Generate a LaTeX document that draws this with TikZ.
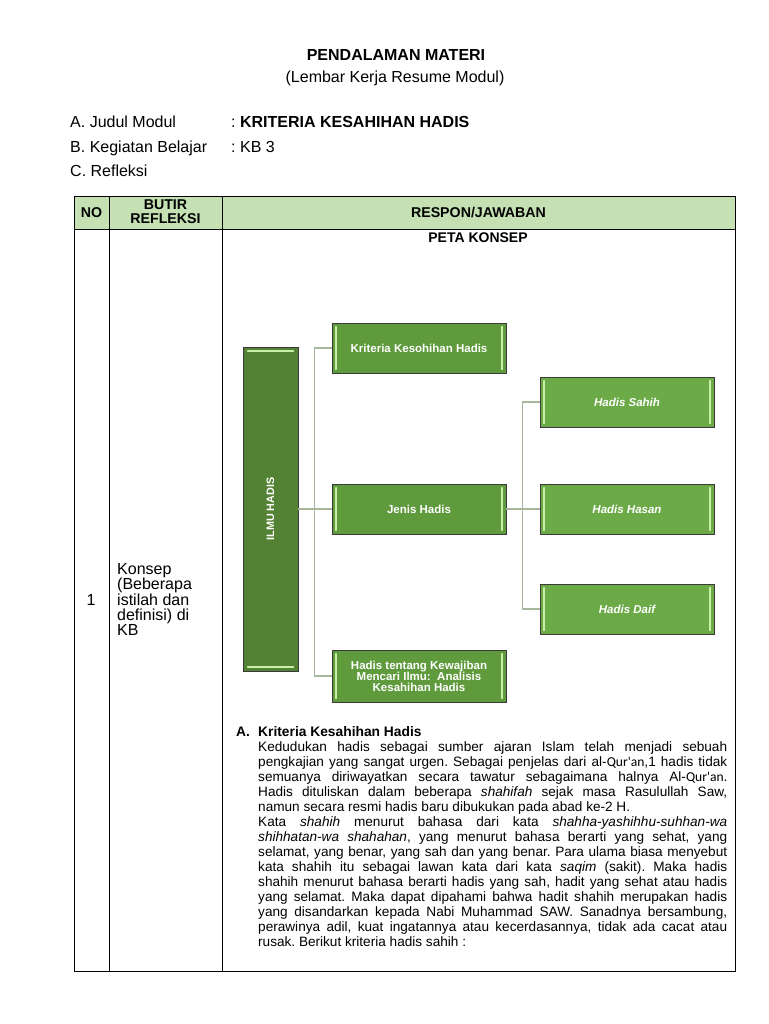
\documentclass[tikz,border=0pt]{standalone}
\usepackage{fontspec}
\setmainfont{Liberation Sans}
\newfontfamily\calib{Carlito}
\usetikzlibrary{shadows}
\definecolor{hdrgreen}{HTML}{C5E0B3}
\definecolor{boxmid}{HTML}{5F9A3C}
\definecolor{boxlight}{HTML}{6CAA48}
\definecolor{boxdark}{HTML}{548235}
\definecolor{bevel}{HTML}{C8F0A8}
\definecolor{conn}{HTML}{A7B79C}
\definecolor{boxedge}{HTML}{3A3A3A}
\newcommand\bevelv[1]{%
  \draw[bevelline] ([xshift=4.5pt,yshift=-4pt]#1.north west) -- ([xshift=4.5pt,yshift=4pt]#1.south west);
  \draw[bevelline] ([xshift=-4.5pt,yshift=-4pt]#1.north east) -- ([xshift=-4.5pt,yshift=4pt]#1.south east);}
\newcommand\jl[1]{\makebox[469pt][s]{#1}}
\frenchspacing
\begin{document}
\begin{tikzpicture}[x=1pt,y=-1pt,
  tbl/.style={draw=black,line width=0.9pt},
  hd/.style={font=\fontsize{16}{19}\selectfont,anchor=base west,inner sep=0pt},
  th/.style={font=\bfseries\fontsize{14.2}{15}\selectfont,anchor=base,inner sep=0pt},
  col/.style={font=\fontsize{16}{15}\selectfont,anchor=base west,inner sep=0pt},
  body/.style={font=\fontsize{13.6}{15}\selectfont,anchor=base west,inner sep=0pt},
  box/.style={draw=boxedge,line width=0.7pt,minimum width=174pt,minimum height=50pt,
    text=white,align=center,inner sep=2pt,
    drop shadow={shadow xshift=1.2pt,shadow yshift=-1.2pt,opacity=0.35,fill=black}},
  midbox/.style={box,fill=boxmid,font=\bfseries\fontsize{11.5}{11}\selectfont},
  lightbox/.style={box,fill=boxlight,font=\bfseries\itshape\fontsize{11.5}{11}\selectfont},
  bevelline/.style={draw=bevel,line width=1.6pt,line cap=round},
  conn/.style={draw=conn,line width=1.4pt}]
\useasboundingbox (0,0) rectangle (768,1024);
\fill[white] (0,0) rectangle (768,1024);

% heading
\node[anchor=base,inner sep=0pt,font=\bfseries\fontsize{16}{19}\selectfont] (title) at (396,61) {PENDALAMAN MATERI};
\node[anchor=base,inner sep=0pt,font=\fontsize{16}{19}\selectfont] (subtitle) at (395,83) {(Lembar Kerja Resume Modul)};
\node[hd] (la) at (70,128) {A. Judul Modul};
\node[hd] (ra) at (231,128) {: \textbf{KRITERIA KESAHIHAN HADIS}};
\node[hd] (lb) at (70,153) {B. Kegiatan Belajar};
\node[hd] (rb) at (231,153) {: KB 3};
\node[hd] (lc) at (70,177) {C. Refleksi};

% table
\fill[hdrgreen] (74,196) rectangle (735,229);
\draw[tbl] (74,196) rectangle (735,971);
\draw[tbl] (74,229) -- (735,229);
\draw[tbl] (109,196) -- (109,971);
\draw[tbl] (222,196) -- (222,971);
\node[th] (hno) at (91.5,218) {NO};
\node[th] (hb1) at (165.5,210) {BUTIR};
\node[th] (hb2) at (165.5,224) {REFLEKSI};
\node[th] (hresp) at (478.5,218) {RESPON/JAWABAN};
\node[th,font=\bfseries\fontsize{14}{15}\selectfont] (peta) at (478,243) {PETA KONSEP};

\node[col,anchor=base] (no1) at (91,605) {1};
\node[col] (k1) at (117,574.5) {Konsep};
\node[col] (k2) at (117,589.5) {(Beberapa};
\node[col] (k3) at (117,605) {istilah dan};
\node[col] (k4) at (117,620) {definisi) di};
\node[col] (k5) at (117,635) {KB};

% concept map
\node[box,fill=boxdark,minimum width=55pt,minimum height=324pt] (ilmu) at (270.5,509) {};
\node[font=\bfseries\fontsize{10.8}{11}\selectfont,text=white,rotate=90] (ilmut) at (ilmu.center) {ILMU HADIS};
\draw[bevelline] ([xshift=5pt,yshift=-4.5pt]ilmu.north west) -- ([xshift=-5pt,yshift=-4.5pt]ilmu.north east);
\draw[bevelline] ([xshift=5pt,yshift=4.5pt]ilmu.south west) -- ([xshift=-5pt,yshift=4.5pt]ilmu.south east);

\node[midbox] (kriteria) at (419,348) {Kriteria Kesohihan Hadis};
\node[midbox] (jenis) at (419,509) {Jenis Hadis};
\node[midbox,minimum height=52pt] (tentang) at (419,676) {Hadis tentang Kewajiban\\Mencari Ilmu:\ \ Analisis\\Kesahihan Hadis};
\node[lightbox] (sahih) at (627,402) {Hadis Sahih};
\node[lightbox] (hasan) at (627,509) {Hadis Hasan};
\node[lightbox] (daif) at (627,609) {Hadis Daif};
\bevelv{kriteria}\bevelv{jenis}\bevelv{tentang}
\bevelv{sahih}\bevelv{hasan}\bevelv{daif}

\draw[conn] (ilmu.east) -- (jenis.west);
\draw[conn] (kriteria.west) -- ++(-17,0) |- (tentang.west);
\draw[conn] (jenis.east) -- (hasan.west);
\draw[conn] (sahih.west) -- ++(-17,0) |- (daif.west);

% text
\node[body,font=\bfseries\fontsize{13.8}{15}\selectfont] (pa) at (236,736) {A.};
\node[body,font=\bfseries\fontsize{13.8}{15}\selectfont] (pt) at (258,736) {Kriteria Kesahihan Hadis};
\node[body] (p1) at (258,751) {\jl{Kedudukan hadis sebagai sumber ajaran Islam telah menjadi sebuah}};
\node[body] (p2) at (258,766) {\jl{pengkajian yang sangat urgen. Sebagai penjelas dari al-{\calib Qur'an},1 hadis tidak}};
\node[body] (p3) at (258,781) {\jl{semuanya diriwayatkan secara tawatur sebagaimana halnya Al-{\calib Qur'an.}}};
\node[body] (p4) at (258,796) {\jl{Hadis dituliskan dalam beberapa \textit{shahifah} sejak masa Rasulullah Saw,}};
\node[body] (p5) at (258,811) {namun secara resmi hadis baru dibukukan pada abad ke-2 H.};
\node[body] (p6) at (258,826) {\jl{Kata \textit{shahih} menurut bahasa dari kata \textit{shahha-yashihhu-suhhan-wa}}};
\node[body] (p7) at (258,841) {\jl{\textit{shihhatan-wa shahahan}, yang menurut bahasa berarti yang sehat, yang}};
\node[body] (p8) at (258,856) {\jl{selamat, yang benar, yang sah dan yang benar. Para ulama biasa menyebut}};
\node[body] (p9) at (258,871) {\jl{kata shahih itu sebagai lawan kata dari kata \textit{saqim} (sakit). Maka hadis}};
\node[body] (p10) at (258,886) {\jl{shahih menurut bahasa berarti hadis yang sah, hadit yang sehat atau hadis}};
\node[body] (p11) at (258,901) {\jl{yang selamat. Maka dapat dipahami bahwa hadit shahih merupakan hadis}};
\node[body] (p12) at (258,916) {\jl{yang disandarkan kepada Nabi Muhammad SAW. Sanadnya bersambung,}};
\node[body] (p13) at (258,931) {\jl{perawinya adil, kuat ingatannya atau kecerdasannya, tidak ada cacat atau}};
\node[body] (p14) at (258,946) {rusak. Berikut kriteria hadis sahih :};
\end{tikzpicture}
\end{document}
